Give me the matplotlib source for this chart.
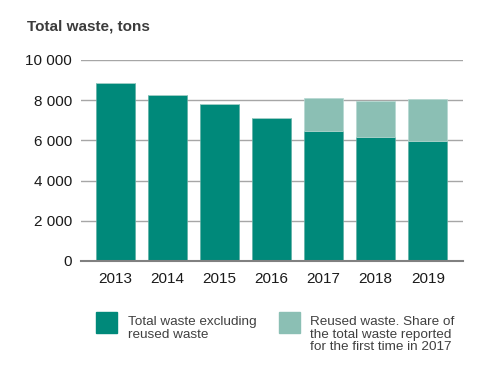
import numpy as np
import matplotlib.pyplot as plt
from matplotlib.patches import Rectangle

plt.rcParams['font.family'] = ['Liberation Sans', 'DejaVu Sans']

years = ['2013', '2014', '2015', '2016', '2017', '2018', '2019']
excl_reused = [8850, 8280, 7820, 7120, 6490, 6160, 5960]
reused = [0, 0, 0, 0, 1640, 1820, 2120]
yticks = [0, 2000, 4000, 6000, 8000, 10000]
ytick_labels = ['0', '2 000', '4 000', '6 000', '8 000', '10 000']

dark = '#00897a'
light = '#8bbfb4'
text_col = '#1a1a1a'

fig = plt.figure(figsize=(5, 3.75), dpi=100)
ax = fig.add_axes([0.161, 0.304, 0.764, 0.536])

x = np.arange(len(years))
ax.bar(x, excl_reused, width=0.75, color=dark, edgecolor='#5fb0a4', linewidth=0.5, zorder=3)
ax.bar(x, reused, width=0.75, bottom=excl_reused, color=light, edgecolor='#b5d8d1',
       linewidth=0.5, zorder=3)

ax.set_xlim(-0.665, 6.665)
ax.set_ylim(0, 10000)
ax.set_yticks(yticks)
ax.set_yticklabels(ytick_labels)
ax.set_xticks(x)
ax.set_xticklabels(years)
ax.tick_params(axis='both', length=0, labelsize=11, colors=text_col)
ax.tick_params(axis='y', pad=6)
ax.tick_params(axis='x', pad=8)

ax.grid(axis='y', color='#a6a6a6', linewidth=1.0, zorder=0)
for s in ['top', 'right', 'left']:
    ax.spines[s].set_visible(False)
ax.spines['bottom'].set_color('#808080')
ax.spines['bottom'].set_linewidth(1.5)
ax.spines['bottom'].set_zorder(4)

fig.text(0.054, 0.93, 'Total waste, tons', fontsize=11, fontweight='bold',
         color='#3c3c3c', ha='left', va='center')

# legend
fig.patches.append(Rectangle((96 / 500, 1 - 333 / 375), 21 / 500, 21 / 375,
                             transform=fig.transFigure, color=dark))
fig.text(128 / 500, 1 - 316 / 375, 'Total waste excluding\nreused waste', fontsize=9.7,
         color='#404040', ha='left', va='top', linespacing=1.08)
fig.patches.append(Rectangle((279 / 500, 1 - 333 / 375), 21 / 500, 21 / 375,
                             transform=fig.transFigure, color=light))
fig.text(310 / 500, 1 - 316 / 375,
         'Reused waste. Share of\nthe total waste reported\nfor the first time in 2017',
         fontsize=9.7, color='#404040', ha='left', va='top', linespacing=1.08)

fig.savefig('out.png', dpi=100)
